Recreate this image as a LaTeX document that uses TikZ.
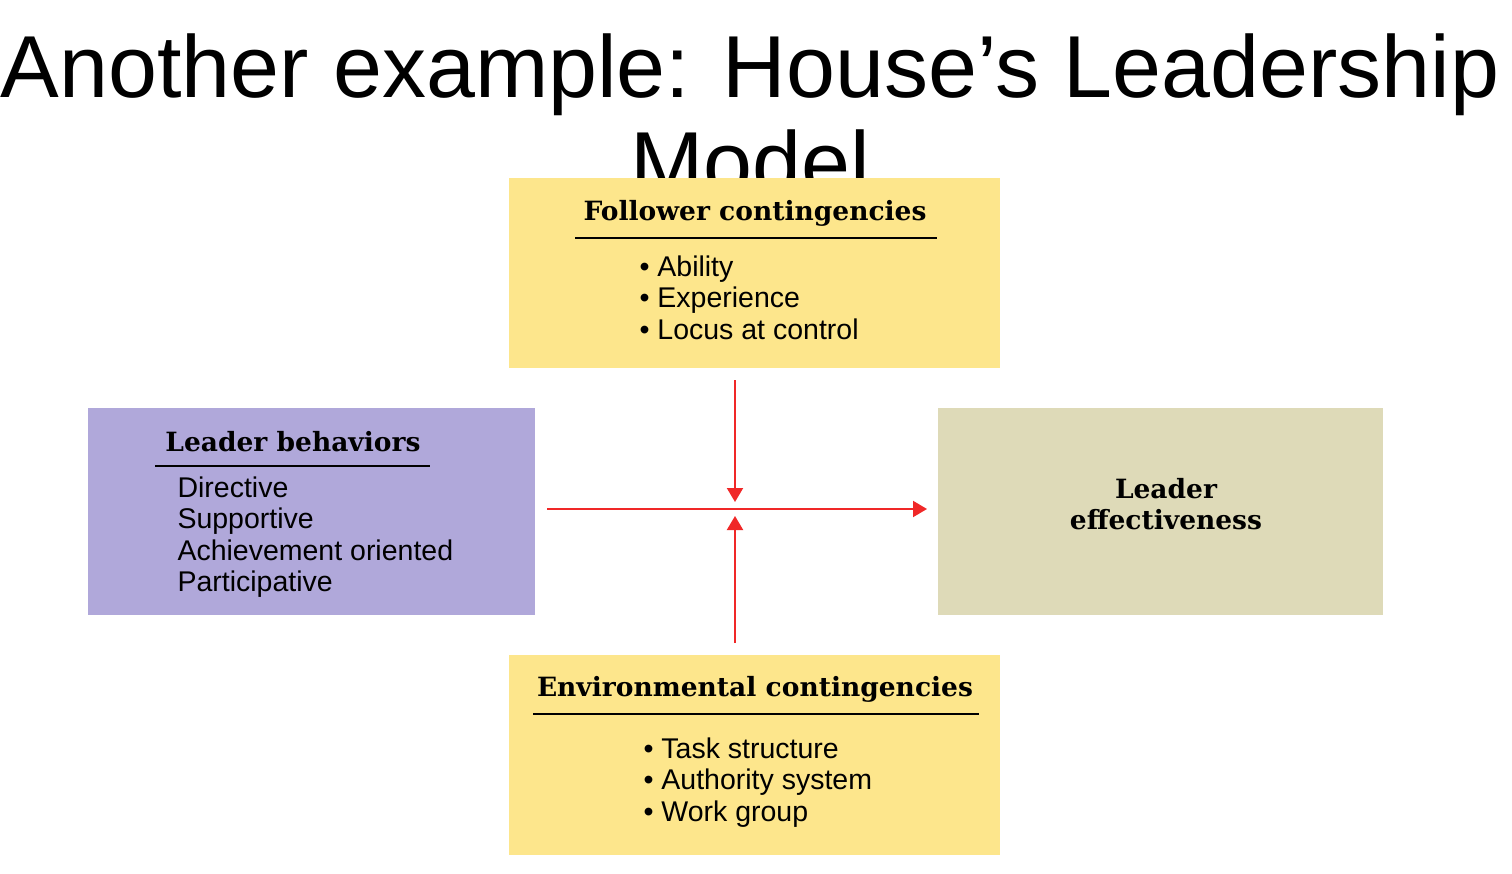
\documentclass[tikz,border=0pt]{standalone}
\usepackage{fontspec}
\setmainfont{Liberation Sans}
\newfontfamily\hdfont{DejaVu Serif}
\usetikzlibrary{arrows.meta}
\definecolor{yel}{RGB}{253,230,140}
\definecolor{pur}{RGB}{176,168,218}
\definecolor{khk}{RGB}{222,218,184}
\definecolor{arr}{RGB}{240,40,40}
\begin{document}
\begin{tikzpicture}[x=1pt,y=-1pt,
  box/.style={draw=none,inner sep=0},
  hd/.style={font=\hdfont\bfseries\fontsize{26.5}{29}\selectfont,anchor=center},
  body/.style={font=\fontsize{28.5}{31.5}\selectfont,align=left,anchor=north west},
  rl/.style={draw=black,line width=1.2pt},
  ra/.style={draw=arr,line width=2pt,-{Triangle[length=14pt,width=16pt]}}]
\useasboundingbox (0,0) rectangle (1512,874);
\node[font=\fontsize{88}{96}\selectfont,align=center,anchor=north] (title) at (750,30) {Another example: House’s Leadership\\Model};
\fill[yel] (509,178) rectangle (1000,368);
\fill[pur] (88,408) rectangle (535,615);
\fill[khk] (938,408) rectangle (1383,615);
\fill[yel] (509,655) rectangle (1000,855);
\node[hd] (fh) at (755,213) {Follower contingencies};
\draw[rl] (575,238) -- (937,238);
\node[body] (fb) at (636,252) {• Ability\\• Experience\\• Locus at control};
\node[hd] (lh) at (293,442) {Leader behaviors};
\draw[rl] (155,466) -- (430,466);
\node[body] (lb) at (174,473) {Directive\\Supportive\\Achievement oriented\\Participative};
\node[hd,align=center,font=\hdfont\bfseries\fontsize{26.5}{31}\selectfont] (eh) at (1166,504) {Leader\\effectiveness};
\node[hd] (vh) at (755,689) {Environmental contingencies};
\draw[rl] (533,714) -- (979,714);
\node[body] (vb) at (640,734) {• Task structure\\• Authority system\\• Work group};
\coordinate (hl) at (547,509);
\coordinate (hr) at (927,509);
\coordinate (vt) at (735,380);
\coordinate (vtb) at (735,502);
\coordinate (vb2) at (735,643);
\coordinate (vbt) at (735,516);
\draw[ra] (hl) -- (hr);
\draw[ra] (vt) -- (vtb);
\draw[ra] (vb2) -- (vbt);
\end{tikzpicture}
\end{document}
